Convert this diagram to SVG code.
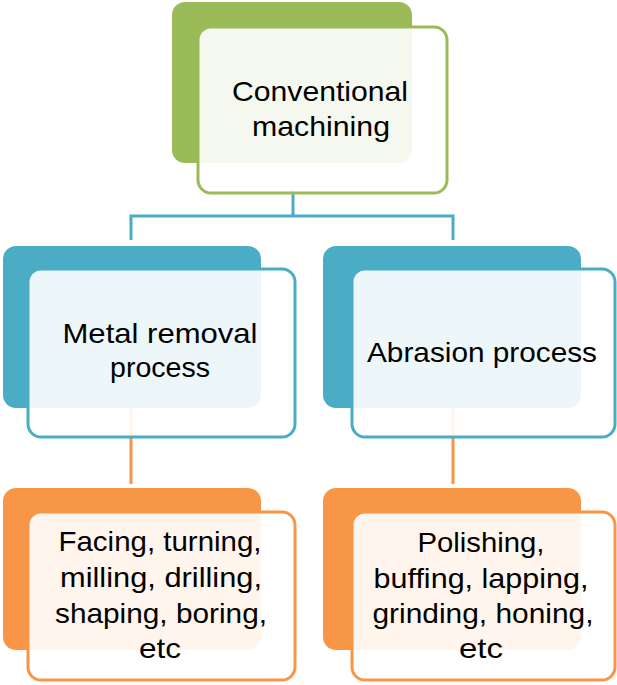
<svg xmlns="http://www.w3.org/2000/svg" width="617" height="685" viewBox="0 0 617 685">
<style>
text{font-family:"Liberation Sans",Arial,sans-serif;font-size:28px;fill:#000;text-anchor:middle}
.front{fill:#fff;fill-opacity:0.9;stroke-width:3}
.g .back{fill:#9bbb59}.g .front{stroke:#9bbb59}
.b .back{fill:#4bacc6}.b .front{stroke:#4bacc6}
.o .back{fill:#f79646}.o .front{stroke:#f79646}
.cb{stroke:#4bacc6;stroke-width:3;fill:none}
.co{stroke:#f79646;stroke-width:3;fill:none}
</style>
<rect width="617" height="685" fill="#fff"/>
<g id="connectors">
<path class="cb" d="M293,190 V216 M131,240 V216 H453 V240"/>
<path class="co" d="M131,405 V484 M453,405 V484"/>
</g>
<g id="conventional" class="g">
<rect class="back" x="172" y="2" width="240" height="161" rx="13"/>
<rect class="front" x="198" y="27" width="249" height="166" rx="13"/>
<text x="320" y="101" textLength="176" lengthAdjust="spacingAndGlyphs">Conventional</text>
<text x="321" y="136" textLength="138" lengthAdjust="spacingAndGlyphs">machining</text>
</g>
<g id="metal-removal" class="b">
<rect class="back" x="3" y="246" width="258" height="162" rx="13"/>
<rect class="front" x="28" y="269" width="267" height="168" rx="13"/>
<text x="160" y="343" textLength="195" lengthAdjust="spacingAndGlyphs">Metal removal</text>
<text x="160" y="377" textLength="100" lengthAdjust="spacingAndGlyphs">process</text>
</g>
<g id="abrasion" class="b">
<rect class="back" x="323" y="246" width="258" height="162" rx="13"/>
<rect class="front" x="352" y="269" width="263" height="168" rx="13"/>
<text x="482" y="362" textLength="230" lengthAdjust="spacingAndGlyphs">Abrasion process</text>
</g>
<g id="metal-examples" class="o">
<rect class="back" x="3" y="488" width="258" height="162" rx="13"/>
<rect class="front" x="28" y="512" width="267" height="168" rx="13"/>
<text x="160" y="551" textLength="203" lengthAdjust="spacingAndGlyphs">Facing, turning,</text>
<text x="161" y="587" textLength="202" lengthAdjust="spacingAndGlyphs">milling, drilling,</text>
<text x="161" y="623" textLength="212" lengthAdjust="spacingAndGlyphs">shaping, boring,</text>
<text x="160" y="658" textLength="42" lengthAdjust="spacingAndGlyphs">etc</text>
</g>
<g id="abrasion-examples" class="o">
<rect class="back" x="323" y="488" width="258" height="162" rx="13"/>
<rect class="front" x="352" y="512" width="263" height="168" rx="13"/>
<text x="481" y="552" textLength="127" lengthAdjust="spacingAndGlyphs">Polishing,</text>
<text x="481" y="588" textLength="215" lengthAdjust="spacingAndGlyphs">buffing, lapping,</text>
<text x="483" y="623" textLength="221" lengthAdjust="spacingAndGlyphs">grinding, honing,</text>
<text x="481" y="658" textLength="44" lengthAdjust="spacingAndGlyphs">etc</text>
</g>
</svg>
